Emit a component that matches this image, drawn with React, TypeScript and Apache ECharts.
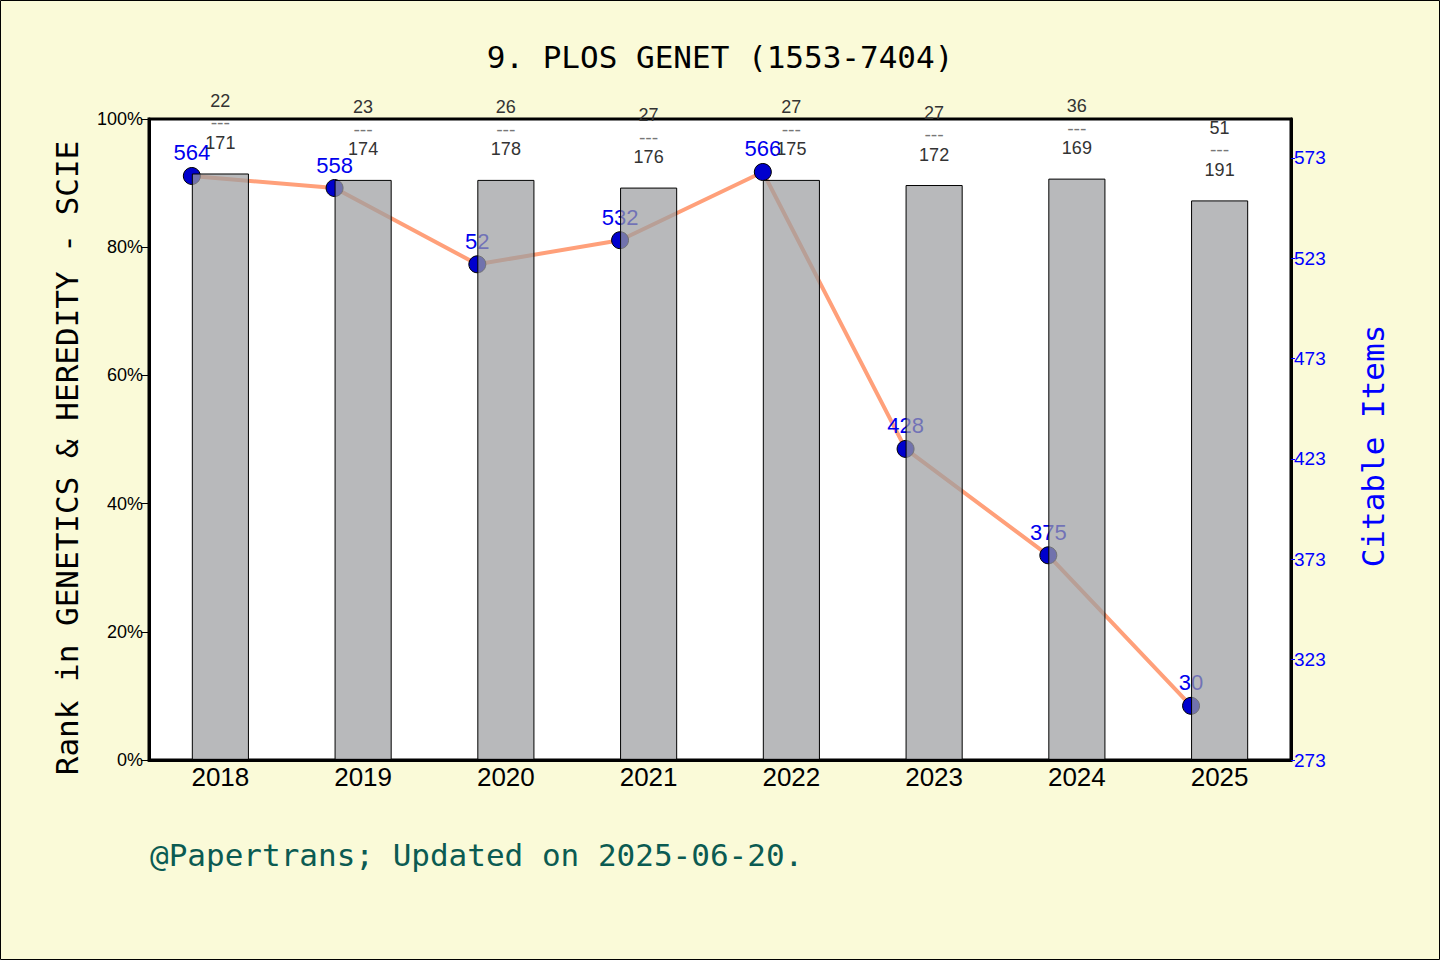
import React, { useEffect, useRef } from "react";
import * as echarts from "echarts";

const years = ["2018", "2019", "2020", "2021", "2022", "2023", "2024", "2025"];
const rankPct = [91.5, 90.5, 90.5, 89.3, 90.5, 89.7, 90.7, 87.3];
const rankNum = [22, 23, 26, 27, 27, 27, 36, 51];
const rankTotal = [171, 174, 178, 176, 175, 172, 169, 191];
const citable = [564, 558, 520, 532, 566, 428, 375, 300];
const citableLabels = ["564", "558", "52", "532", "566", "428", "375", "30"];
const rightTicks = [273, 323, 373, 423, 473, 523, 573];
const leftTicks = [0, 20, 40, 60, 80, 100];

const LINE_OFFSET = -0.2;
const MONO = "'DejaVu Sans Mono', monospace";
const SANS = "'Liberation Sans', Arial, sans-serif";

export default function App() {
  const ref = useRef<HTMLDivElement>(null);
  useEffect(() => {
    document.body.style.margin = "0";
    const chart = echarts.init(ref.current!, null, { renderer: "svg" });
    const option: any = {
      animation: false,
      backgroundColor: "#FAFAD8",
      grid: {
        left: 149,
        right: 149,
        top: 119,
        bottom: 200,
        show: true,
        backgroundColor: "#ffffff",
        borderColor: "#000",
        borderWidth: 3,
      },
      xAxis: [
        {
          type: "category",
          data: years,
          axisLine: { onZero: false, lineStyle: { color: "#000", width: 3 } },
          axisTick: { inside: true, length: 7, lineStyle: { color: "#000", width: 1 } },
          axisLabel: { color: "#000", fontSize: 26, fontFamily: SANS, margin: 4 },
          splitLine: { show: false },
        },
        {
          type: "value",
          min: -0.5,
          max: 7.5,
          show: false,
        },
      ],
      yAxis: [
        {
          type: "value",
          min: 0,
          max: 100,
          interval: 20,
          position: "left",
          axisLine: { show: true, onZero: false, lineStyle: { color: "#000", width: 3 } },
          axisTick: { show: true, length: 8, lineStyle: { color: "#000", width: 1 } },
          axisLabel: {
            color: "#000",
            fontSize: 18,
            fontFamily: SANS,
            margin: 6,
            formatter: (v: number) => (leftTicks.includes(v) ? `${v}%` : ""),
          },
          splitLine: { show: false },
        },
        {
          type: "value",
          min: 273,
          max: 592.4,
          position: "right",
          axisLine: { show: true, onZero: false, lineStyle: { color: "#000", width: 3 } },
          axisTick: {
            show: true,
            length: 4,
            customValues: rightTicks,
            lineStyle: { color: "#0000FF", width: 1 },
          },
          axisLabel: {
            color: "#0000FF",
            fontSize: 19,
            fontFamily: SANS,
            margin: 3,
            customValues: rightTicks,
          },
          splitLine: { show: false },
        },
      ],
      series: [
        {
          type: "line",
          xAxisIndex: 1,
          yAxisIndex: 1,
          z: 1,
          data: citable.map((v, i) => [i + LINE_OFFSET, v]),
          lineStyle: { color: "#FFA07A", width: 4 },
          symbol: "circle",
          symbolSize: 17,
          itemStyle: { color: "#0000CD", borderColor: "#000", borderWidth: 1 },
          label: {
            show: true,
            position: "top",
            distance: 3,
            color: "#0000EE",
            fontSize: 22,
            fontFamily: SANS,
            formatter: (p: any) => citableLabels[p.dataIndex],
          },
        },
        {
          type: "bar",
          xAxisIndex: 0,
          yAxisIndex: 0,
          z: 3,
          data: rankPct,
          barWidth: "40%",
          itemStyle: {
            color: "rgba(157,158,161,0.72)",
            borderColor: "#000",
            borderWidth: 1,
          },
          label: {
            show: true,
            position: "top",
            distance: 20,
            formatter: (p: any) =>
              `{n|${rankNum[p.dataIndex]}}\n{d|---}\n{n|${rankTotal[p.dataIndex]}}`,
            rich: {
              n: { fontSize: 18, color: "#333", fontFamily: SANS, lineHeight: 21 },
              d: { fontSize: 18, color: "#777", fontFamily: "'DejaVu Sans', sans-serif", lineHeight: 21 },
            },
          },
        },
      ],
      graphic: [
        {
          type: "rect",
          shape: { x: 0.5, y: 0.5, width: 1439, height: 959 },
          style: { fill: "none", stroke: "#000", lineWidth: 1 },
          silent: true,
        },
        {
          type: "text",
          x: 720,
          y: 57,
          style: {
            text: "9. PLOS GENET (1553-7404)",
            font: `31px ${MONO}`,
            fill: "#000",
            align: "center",
            verticalAlign: "middle",
          },
        },
        {
          type: "text",
          x: 150,
          y: 855,
          style: {
            text: "@Papertrans; Updated on 2025-06-20.",
            font: `31px ${MONO}`,
            fill: "#0B5B52",
            align: "left",
            verticalAlign: "middle",
          },
        },
        {
          type: "text",
          x: 67,
          y: 458,
          rotation: Math.PI / 2,
          style: {
            text: "Rank in GENETICS & HEREDITY - SCIE",
            font: `31px ${MONO}`,
            fill: "#000",
            align: "center",
            verticalAlign: "middle",
          },
        },
        {
          type: "text",
          x: 1373,
          y: 446,
          rotation: Math.PI / 2,
          style: {
            text: "Citable Items",
            font: `31px ${MONO}`,
            fill: "#0000FF",
            align: "center",
            verticalAlign: "middle",
          },
        },
      ],
    };
    chart.setOption(option);
    return () => chart.dispose();
  }, []);
  return <div ref={ref} style={{ width: 1440, height: 960 }} />;
}
